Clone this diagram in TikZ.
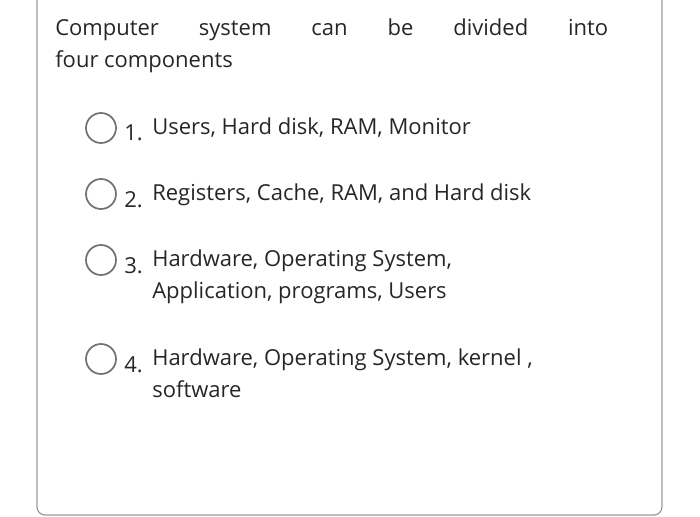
\documentclass[tikz,border=0pt]{standalone}
\usepackage{fontspec}
\setmainfont{Open Sans}
\begin{document}
\begin{tikzpicture}[x=0.75pt,y=-0.75pt,
  txt/.style={anchor=base west,inner sep=0,font=\fontsize{16.5pt}{24pt}\selectfont,text=black!85},
  num/.style={anchor=base west,inner sep=0,font=\fontsize{16.5pt}{24pt}\selectfont,text=black!85},
  radio/.style={draw=black!55,line width=1.3pt,circle,minimum size=30*0.75pt,inner sep=0}]
\useasboundingbox (0,0) rectangle (700,517);
\draw[black!40,line width=0.9pt,rounded corners=6pt] (37,-10) -- (37,515) -- (662,515) -- (662,-10);
\node[txt,anchor=north west,text width=553*0.75pt,align=justify] (q) at (55,19)
  {Computer system can be divided into\linebreak four components};
\node[radio] (r1) at (101,128) {};
\node[num] (n1) at (124,141) {1.};
\node[txt] (o1) at (152,134) {Users, Hard disk, RAM, Monitor};
\node[radio] (r2) at (101,194) {};
\node[num] (n2) at (124,207) {2.};
\node[txt] (o2) at (152,200) {Registers, Cache, RAM, and Hard disk};
\node[radio] (r3) at (101,260) {};
\node[num] (n3) at (124,273) {3.};
\node[txt,align=left,anchor=north west] (o3) at (152,250) {Hardware, Operating System,\\Application, programs, Users};
\node[radio] (r4) at (101,359) {};
\node[num] (n4) at (124,372) {4.};
\node[txt,align=left,anchor=north west] (o4) at (152,349) {Hardware, Operating System, kernel ,\\software};
\end{tikzpicture}
\end{document}
